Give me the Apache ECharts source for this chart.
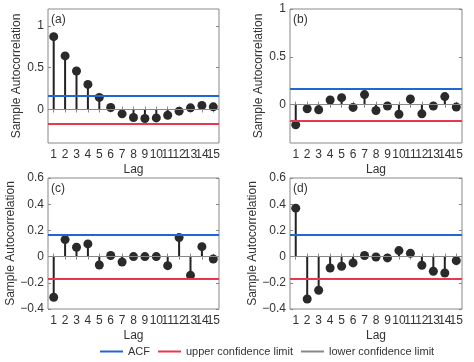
<!DOCTYPE html>
<html>
<head>
<meta charset="utf-8">
<script src="https://cdn.jsdelivr.net/npm/echarts@6/dist/echarts.min.js"></script>
<style>html,body{margin:0;padding:0;background:#fff}#c{width:474px;height:362px}</style>
</head>
<body>
<div id="c"></div>
<script>
// ---- data ----
const lags = ['1','2','3','4','5','6','7','8','9','10','11','12','13','14','15'];
const acfA = [0.87,0.64,0.46,0.30,0.144,0.024,-0.052,-0.096,-0.108,-0.10,-0.068,-0.02,0.02,0.048,0.032];
const acfB = [-0.21,-0.042,-0.053,0.049,0.074,-0.028,0.106,-0.06,-0.014,-0.10,0.06,-0.095,-0.014,0.085,-0.025];
const acfC = [-0.31,0.13,0.071,0.097,-0.064,0.008,-0.041,0.0,0.0,0.0,-0.069,0.145,-0.143,0.076,-0.018];
const acfD = [0.37,-0.324,-0.257,-0.087,-0.074,-0.048,0.008,-0.003,-0.01,0.046,0.025,-0.066,-0.112,-0.125,-0.031];
const blueLine = [0.163,0.165,0.166,0.168];
const redLine = [-0.166,-0.169,-0.171,-0.173];
const zeroLine = [0,0,0,0];
const panelLabels = ['(a)','(b)','(c)','(d)'];
const yMins = [-0.4,-0.4,-0.4,-0.4];
const yMaxs = [1.2,1,0.6,0.6];
const yTicksTop = [0,0.5,1];
const yTicksBottom = [-0.4,-0.2,0,0.2,0.4,0.6];
const legendNames = ['ACF','upper confidence limit','lower confidence limit'];

const acfs = [acfA,acfB,acfC,acfD];
const yTicks = [yTicksTop,yTicksTop,yTicksBottom,yTicksBottom];
const grids = [
  {left:48, top:9, width:171, height:134},
  {left:290, top:9, width:172, height:134},
  {left:48, top:178, width:171, height:131},
  {left:290, top:178, width:172, height:131}
];
const FONT = 'Liberation Sans, Arial, sans-serif';
const fmt = v => v === 0 ? '0' : String(Math.round(v*10)/10).replace('-', '\u2212');

const xAxis = [], yAxis = [], series = [], graphic = [];
grids.forEach((g, i) => {
  xAxis.push({
    type:'category', gridIndex:i, data:lags, boundaryGap:true,
    name:'Lag', nameLocation:'middle', nameGap:21,
    nameTextStyle:{fontFamily:FONT, fontSize:12, color:'#333'},
    axisLine:{show:false}, splitLine:{show:false},
    axisTick:{show:true, inside:true, length:3, alignWithLabel:true, interval:0, lineStyle:{color:'#888'}},
    axisLabel:{interval:0, hideOverlap:false, margin:6, fontFamily:FONT, fontSize:12, color:'#333'}
  });
  xAxis.push({
    type:'category', gridIndex:i, data:lags, position:'top', boundaryGap:true,
    axisLine:{show:false}, axisLabel:{show:false}, splitLine:{show:false},
    axisTick:{show:true, inside:true, length:3, alignWithLabel:true, interval:0, lineStyle:{color:'#888'}}
  });
  yAxis.push({
    type:'value', gridIndex:i, min:yMins[i], max:yMaxs[i],
    name:'Sample Autocorrelation', nameLocation:'middle', nameGap:25,
    nameTextStyle:{fontFamily:FONT, fontSize:12, color:'#333'},
    axisLine:{show:false}, splitLine:{show:false},
    axisTick:{show:true, inside:true, length:3, customValues:yTicks[i], lineStyle:{color:'#888'}},
    axisLabel:{customValues:yTicks[i], formatter:fmt, margin:4, fontFamily:FONT, fontSize:12, color:'#333'}
  });
  yAxis.push({
    type:'value', gridIndex:i, min:yMins[i], max:yMaxs[i], position:'right',
    axisLine:{show:false}, splitLine:{show:false}, axisLabel:{show:false},
    axisTick:{show:true, inside:true, length:3, customValues:yTicks[i], lineStyle:{color:'#888'}}
  });
  const xi = i*2, yi = i*2;
  const ml = (val, color, w) => ({silent:true, symbol:'none', label:{show:false},
    lineStyle:{color:color, width:w, type:'solid'}, data:[{yAxis:val}]});
  series.push({name:legendNames[2], type:'line', xAxisIndex:xi, yAxisIndex:yi, data:[], symbol:'none',
    lineStyle:{color:'#888', width:1}, itemStyle:{color:'#888'}, markLine:ml(zeroLine[i], '#888', 1), z:2});
  series.push({name:legendNames[0], type:'line', xAxisIndex:xi, yAxisIndex:yi, data:[], symbol:'none',
    lineStyle:{color:'#2066d4', width:2}, itemStyle:{color:'#2066d4'}, markLine:ml(blueLine[i], '#2066d4', 2), z:2});
  series.push({name:legendNames[1], type:'line', xAxisIndex:xi, yAxisIndex:yi, data:[], symbol:'none',
    lineStyle:{color:'#e8384e', width:2}, itemStyle:{color:'#e8384e'}, markLine:ml(redLine[i], '#e8384e', 2), z:2});
  series.push({type:'bar', xAxisIndex:xi, yAxisIndex:yi, data:acfs[i], barWidth:2,
    itemStyle:{color:'#222'}, z:3, silent:true});
  series.push({type:'scatter', xAxisIndex:xi, yAxisIndex:yi, data:acfs[i], symbol:'circle', symbolSize:9,
    itemStyle:{color:'#2a2a2a', opacity:1}, z:4, silent:true});
  graphic.push({type:'text', left:g.left+3, top:g.top+5,
    style:{text:panelLabels[i], font:'12px ' + FONT, fill:'#333'}});
});

const chart = echarts.init(document.getElementById('c'), null, {renderer:'canvas'});
chart.setOption({
  animation:false,
  backgroundColor:'#fff',
  grid: grids.map(g => Object.assign({show:true, borderColor:'#888', borderWidth:1, backgroundColor:'transparent'}, g)),
  xAxis, yAxis, series, graphic,
  legend:{data:legendNames, top:341, left:95, itemWidth:23, itemHeight:2, itemGap:8,
    icon:'rect', textStyle:{fontFamily:FONT, fontSize:11, color:'#333'}}
});
</script>
</body>
</html>
